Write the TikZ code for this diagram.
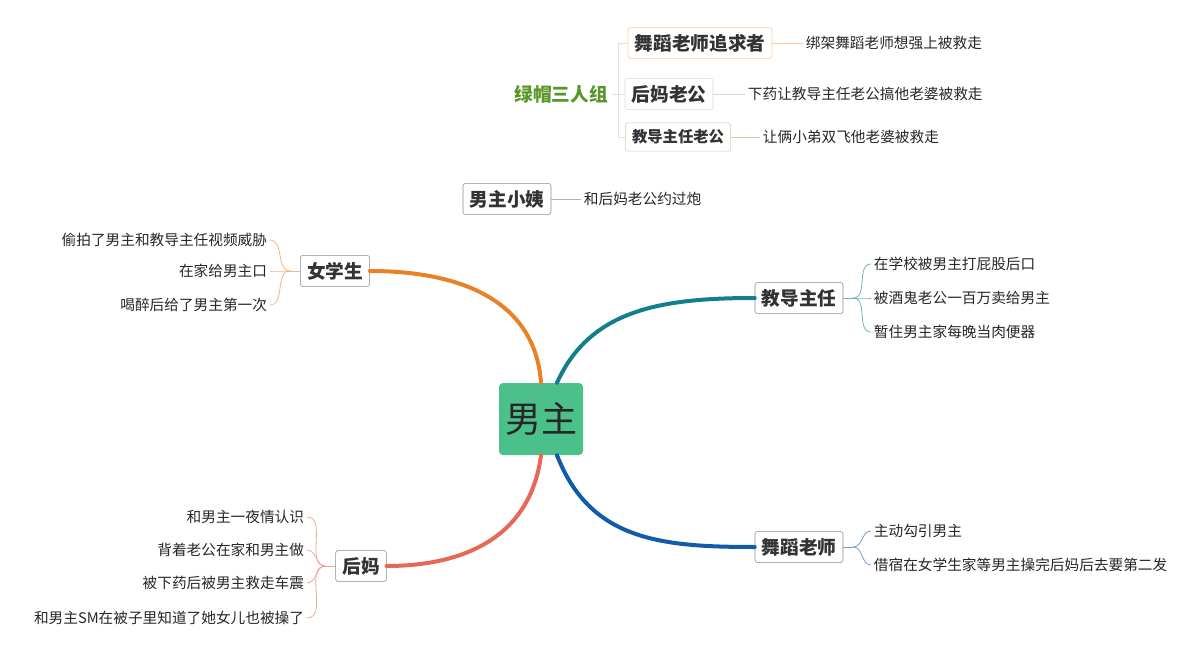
\documentclass[tikz,border=0pt]{standalone}
\usepackage{fontspec}
\setmainfont{Noto Sans CJK SC}
\usetikzlibrary{positioning, calc}
\definecolor{rootgreen}{RGB}{76, 192, 138}
\definecolor{orangeline}{RGB}{232, 130, 40}
\definecolor{tealline}{RGB}{20, 126, 142}
\definecolor{blueline}{RGB}{16, 92, 170}
\definecolor{redline}{RGB}{232, 104, 88}
\definecolor{hatgreen}{RGB}{88, 150, 40}

\begin{document}
\begin{tikzpicture}[x=0.75pt, y=-0.75pt,
    root/.style={rectangle, rounded corners=3pt, fill=rootgreen, minimum width=63pt, minimum height=54pt, font=\fontsize{27}{29}\selectfont, text=black!85},
    branch/.style={rectangle, rounded corners=2pt, draw=black!45, fill=white, inner sep=5pt, font=\fontsize{14}{16}\selectfont\bfseries, text=black!80},
    leaf/.style={inner sep=2pt, font=\fontsize{11}{13}\selectfont, text=black!85},
    thickline/.style={line width=3pt, line cap=round},
    leafline/.style={line width=0.6pt}
]
\useasboundingbox (0,0) rectangle (1200,649);

% root and main branches
\node[root] (root) at (541,419) {男主};
\node[branch] (nxs) at (335,271) {女学生};
\node[branch] (jdzr) at (799,298) {教导主任};
\node[branch] (wdls) at (799,547) {舞蹈老师};
\node[branch] (hm) at (361,566) {后妈};

\draw[thickline, orangeline] (root.north) .. controls (535,300) and (460,271) .. (nxs.east);
\draw[thickline, tealline] ($(root.north)+(16,0)$) .. controls (590,310) and (660,298) .. (jdzr.west);
\draw[thickline, blueline] ($(root.south)+(16,0)$) .. controls (590,540) and (660,547) .. (wdls.west);
\draw[thickline, redline] (root.south) .. controls (530,540) and (460,566) .. (hm.east);

% 女学生 leaves
\node[leaf, anchor=east] (n1) at (270,240) {偷拍了男主和教导主任视频威胁};
\node[leaf, anchor=east] (n2) at (270,271) {在家给男主口};
\node[leaf, anchor=east] (n3) at (270,305) {喝醉后给了男主第一次};
\coordinate (nx) at ($(nxs.west)+(-10,0)$);
\draw[leafline, orangeline!60] (nxs.west) -- (nx);
\foreach \l in {n1,n2,n3} \draw[leafline, orangeline!60] (nx) to[out=180, in=0] (\l.east);

% 教导主任 leaves
\node[leaf, anchor=west] (j1) at (871,264) {在学校被男主打屁股后口};
\node[leaf, anchor=west] (j2) at (871,298) {被酒鬼老公一百万卖给男主};
\node[leaf, anchor=west] (j3) at (871,332) {暂住男主家每晚当肉便器};
\coordinate (jx) at ($(jdzr.east)+(10,0)$);
\draw[leafline, tealline!60] (jdzr.east) -- (jx);
\foreach \l in {j1,j2,j3} \draw[leafline, tealline!60] (jx) to[out=0, in=180] (\l.west);

% 舞蹈老师 leaves
\node[leaf, anchor=west] (w1) at (871,531) {主动勾引男主};
\node[leaf, anchor=west] (w2) at (871,565) {借宿在女学生家等男主操完后妈后去要第二发};
\coordinate (wx) at ($(wdls.east)+(10,0)$);
\draw[leafline, blueline!60] (wdls.east) -- (wx);
\foreach \l in {w1,w2} \draw[leafline, blueline!60] (wx) to[out=0, in=180] (\l.west);

% 后妈 leaves
\node[leaf, anchor=east] (h1) at (307,517) {和男主一夜情认识};
\node[leaf, anchor=east] (h2) at (307,550) {背着老公在家和男主做};
\node[leaf, anchor=east] (h3) at (307,583) {被下药后被男主救走车震};
\node[leaf, anchor=east] (h4) at (307,618) {和男主SM在被子里知道了她女儿也被操了};
\coordinate (hx) at ($(hm.west)+(-10,0)$);
\draw[leafline, redline!60] (hm.west) -- (hx);
\foreach \l in {h1,h2,h3,h4} \draw[leafline, redline!60] (hx) to[out=180, in=0] (\l.east);

% 男主小姨
\node[branch] (xy) at (507,199) {男主小姨};
\node[leaf, anchor=west] (xy1) at (581,199) {和后妈老公约过炮};
\draw[leafline, black!30] (xy.east) -- (xy1.west);

% 绿帽三人组
\node[font=\fontsize{14}{16}\selectfont\bfseries, text=hatgreen] (lm) at (561,94) {绿帽三人组};
\node[branch, draw=orange!40] (zqz) at (700,43) {舞蹈老师追求者};
\node[branch, draw=black!15] (hmlg) at (669,94) {后妈老公};
\node[branch, draw=hatgreen!40, font=\fontsize{11.5}{13}\selectfont\bfseries] (jdlg) at (678,137) {教导主任老公};
\draw[leafline, black!12] (lm.east) -- (hmlg.west);
\draw[leafline, black!12] ($(lm.east)+(6,0)$) |- (zqz.west);
\draw[leafline, black!12] ($(lm.east)+(6,0)$) |- (jdlg.west);
\node[leaf, anchor=west] (zqz1) at (803,43) {绑架舞蹈老师想强上被救走};
\node[leaf, anchor=west] (hmlg1) at (745,94) {下药让教导主任老公搞他老婆被救走};
\node[leaf, anchor=west] (jdlg1) at (760,137) {让俩小弟双飞他老婆被救走};
\draw[leafline, orange!40] (zqz.east) -- (zqz1.west);
\draw[leafline, black!15] (hmlg.east) -- (hmlg1.west);
\draw[leafline, hatgreen!40] (jdlg.east) -- (jdlg1.west);

\end{tikzpicture}
\end{document}
